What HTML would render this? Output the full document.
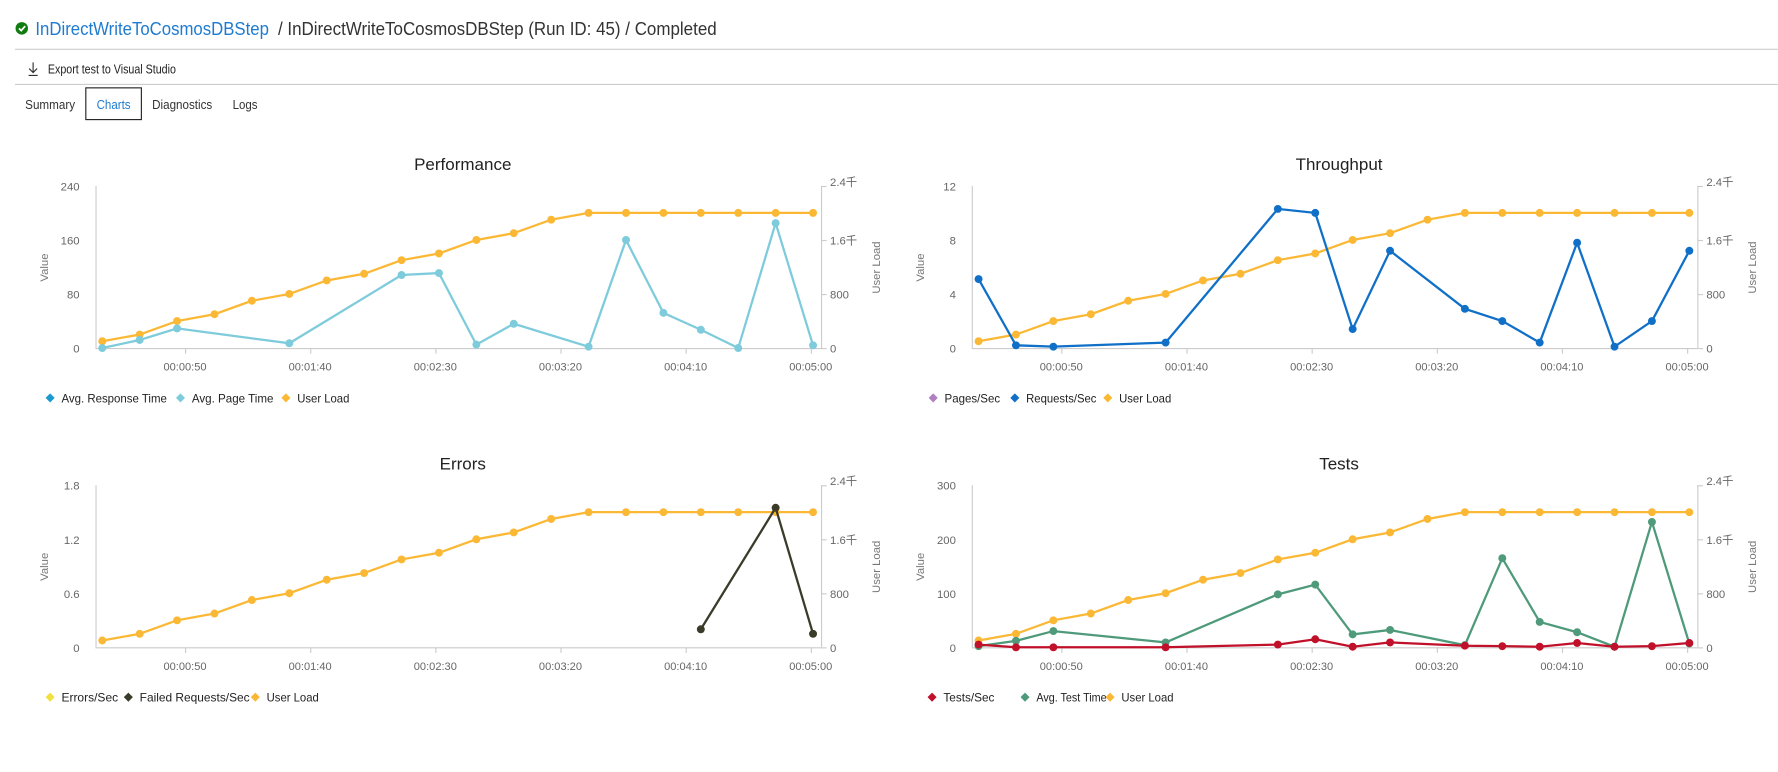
<!DOCTYPE html>
<html><head><meta charset="utf-8">
<style>
html,body{margin:0;padding:0;background:#fff;}
svg{display:block;}
text{font-family:"Liberation Sans","Noto Sans CJK SC",sans-serif;}
</style></head>
<body>
<svg id="s" width="1778" height="772" viewBox="0 0 1568 681" xmlns="http://www.w3.org/2000/svg"></svg>
<script>
var o='';
function T(x,y,sz,col,str,len,extra){return '<text x="'+x+'" y="'+y+'" font-size="'+sz+'" fill="'+col+'"'+(len?' textLength="'+len+'" lengthAdjust="spacingAndGlyphs"':'')+(extra||'')+'>'+str+'</text>';}
o+='<circle cx="19" cy="25" r="5.5" fill="#107c10"/><path d="M16.5 25 l2 2 l3.5 -4" stroke="#fff" stroke-width="1.5" fill="none"/>';
o+=T(31,31,16,'#1e7bd0','InDirectWriteToCosmosDBStep',206);
o+=T(245,31,16,'#333','/ InDirectWriteToCosmosDBStep (Run ID: 45) / Completed',387);
o+='<line x1="13" y1="43.5" x2="1568" y2="43.5" stroke="#ccc"/>';
o+='<path d="M29 55 v9 M25.5 60.5 l3.5 3.5 l3.5 -3.5 M25 66.5 h8" stroke="#333" fill="none" stroke-width="1"/>';
o+=T(42,65,11,'#222','Export test to Visual Studio',113);
o+='<line x1="13" y1="74.5" x2="1568" y2="74.5" stroke="#ccc"/>';
o+=T(22,96,11,'#333','Summary',44);
o+='<rect x="75.5" y="77.5" width="49" height="28" fill="none" stroke="#222"/>';
o+=T(85,96,11,'#1e7bd0','Charts',30);
o+=T(134,96,11,'#333','Diagnostics',53);
o+=T(205,96,11,'#333','Logs',22);

var load=[100,200,400,500,700,800,1000,1100,1300,1400,1600,1700,1900,2000,2000,2000,2000,2000,2000,2000];
var ulp=load.map(function(v,i){return [i,v];});
function chart(c){
  var L=c.x0,R=c.x0+640,Tp=c.y0,B=c.y0+143;
  var px=function(i){return L+6+i*33;};
  var s='';
  s+='<text x="'+(L+324)+'" y="'+(Tp-14)+'" font-size="15" fill="#222" text-anchor="middle">'+c.title+'</text>';
  s+='<line x1="'+(L+.5)+'" y1="'+Tp+'" x2="'+(L+.5)+'" y2="'+B+'" stroke="#ccc"/>';
  s+='<line x1="'+(R+.5)+'" y1="'+Tp+'" x2="'+(R+.5)+'" y2="'+B+'" stroke="#ccc"/>';
  s+='<line x1="'+L+'" y1="'+(B+.5)+'" x2="'+R+'" y2="'+(B+.5)+'" stroke="#ccc"/>';
  for(var k=0;k<4;k++){
    var y=B-k*143/3;
    s+='<text x="'+(L-14)+'" y="'+(y+4)+'" font-size="10" fill="#666" text-anchor="end">'+c.lt[k]+'</text>';
    s+='<line x1="'+R+'" y1="'+(y+.5)+'" x2="'+(R+5)+'" y2="'+(y+.5)+'" stroke="#ccc"/>';
    s+='<text x="'+(R+8)+'" y="'+(y+(k==3?0:4))+'" font-size="10" fill="#666">'+['0','800','1.6千','2.4千'][k]+'</text>';
  }
  var tl=['00:00:50','00:01:40','00:02:30','00:03:20','00:04:10','00:05:00'];
  for(k=0;k<6;k++){var x=L+79+k*110.4;
    s+='<line x1="'+(x+.5)+'" y1="'+B+'" x2="'+(x+.5)+'" y2="'+(B+5)+'" stroke="#ccc"/>';
    s+='<text x="'+x+'" y="'+(B+20)+'" font-size="10" fill="#666" text-anchor="middle" textLength="38" lengthAdjust="spacingAndGlyphs">'+tl[k]+'</text>';}
  s+='<text transform="translate('+(L-42)+','+(Tp+72)+') rotate(-90)" font-size="10" fill="#777" text-anchor="middle">Value</text>';
  s+='<text transform="translate('+(R+52)+','+(Tp+72)+') rotate(-90)" font-size="10" fill="#777" text-anchor="middle">User Load</text>';
  function series(pts,max,col){
    var d=pts.map(function(p,j){return (j?'L':'M')+px(p[0])+' '+(B-p[1]/max*143).toFixed(1);}).join(' ');
    var r='<path d="'+d+'" fill="none" stroke="'+col+'" stroke-width="2"/>';
    pts.forEach(function(p){r+='<circle cx="'+px(p[0])+'" cy="'+(B-p[1]/max*143).toFixed(1)+'" r="3.5" fill="'+col+'"/>';});
    return r;}
  s+=series(ulp,2400,'#fbb835');
  c.ser.forEach(function(q){s+=series(q[0],c.max,q[1]);});
  c.leg.forEach(function(g){
    s+='<path d="M'+g[0]+' '+(B+40)+' l4 4 l-4 4 l-4 -4z" fill="'+g[2]+'"/>';
    s+=T(g[0]+10,B+48,10.5,'#222',g[1],g[3]);});
  return s;}
o+=chart({title:'Performance',x0:84,y0:164,max:240,lt:['0','80','160','240'],
 ser:[[[[0,0],[1,12],[2,29],[5,7],[8,108],[9,111],[10,5],[11,36],[13,2],[14,160],[15,52],[16,27],[17,0],[18,185],[19,4]],'#7ecbdc']],
 leg:[[44,'Avg. Response Time','#1a9ad0',93],[159,'Avg. Page Time','#7ecbdc',72],[252,'User Load','#fbb835',46]]});
o+=chart({title:'Throughput',x0:857,y0:164,max:12,lt:['0','4','8','12'],
 ser:[[[[0,5.1],[1,0.2],[2,0.1],[5,0.4],[8,10.3],[9,10.0],[10,1.4],[11,7.2],[13,2.9],[14,2.0],[15,0.4],[16,7.8],[17,0.1],[18,2.0],[19,7.2]],'#1070c8']],
 leg:[[823,'Pages/Sec','#b07fc0',49],[895,'Requests/Sec','#1070c8',62],[977,'User Load','#fbb835',46]]});
o+=chart({title:'Errors',x0:84,y0:428,max:1.8,lt:['0','0.6','1.2','1.8'],
 ser:[[[[16,0.2],[18,1.55],[19,0.15]],'#3b3b2a']],
 leg:[[44,'Errors/Sec','#f2e040',50],[113,'Failed Requests/Sec','#3b3b2a',97],[225,'User Load','#fbb835',46]]});
o+=chart({title:'Tests',x0:857,y0:428,max:300,lt:['0','100','200','300'],
 ser:[[[[0,2],[1,12],[2,30],[5,9],[8,98],[9,116],[10,24],[11,32],[13,4],[14,165],[15,47],[16,28],[17,1],[18,232],[19,7]],'#4e9a7a'],
      [[[0,5],[1,0],[2,0],[5,0],[8,5],[9,15],[10,1],[11,9],[13,3],[14,2],[15,1],[16,8],[17,1],[18,2],[19,8]],'#c0102a']],
 leg:[[822,'Tests/Sec','#c0102a',45],[904,'Avg. Test Time','#4e9a7a',62],[979,'User Load','#fbb835',46]]});
document.getElementById('s').innerHTML=o;
</script>
</body></html>
